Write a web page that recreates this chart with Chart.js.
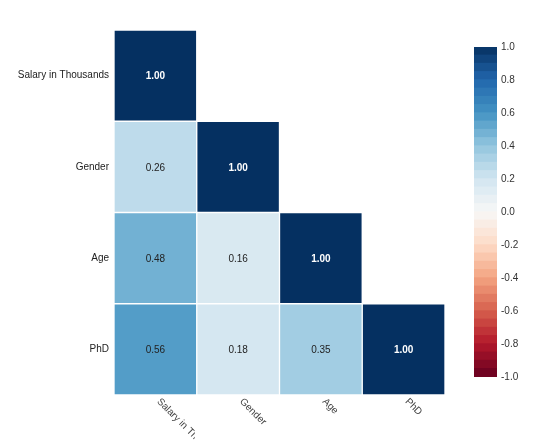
<!DOCTYPE html>
<html><head><meta charset="utf-8">
<script src="https://cdn.jsdelivr.net/npm/chart.js@4/dist/chart.umd.min.js"></script>
<style>
body{margin:0;background:#fff;width:551px;height:440px;overflow:hidden}
#main{position:absolute;left:0;top:0}
#cbar{position:absolute;left:460px;top:0}
</style>
</head><body>
<canvas id="main" width="460" height="440"></canvas>
<canvas id="cbar" width="91" height="440"></canvas>
<script>
const variables = ['Salary in Thousands', 'Gender', 'Age', 'PhD'];
const corrSalary = [1.00];
const corrGender = [0.26, 1.00];
const corrAge = [0.48, 0.16, 1.00];
const corrPhD = [0.56, 0.18, 0.35, 1.00];
const corrRows = [corrSalary, corrGender, corrAge, corrPhD];
const colorbarTicks = [1.0, 0.8, 0.6, 0.4, 0.2, 0.0, -0.2, -0.4, -0.6, -0.8, -1.0];
const palette = ['#67001F','#B2182B','#D6604D','#F4A582','#FDDBC7','#F7F7F7','#D1E5F0','#92C5DE','#4393C3','#2166AC','#053061'];

function hexToRgb(h){return [parseInt(h.substr(1,2),16),parseInt(h.substr(3,2),16),parseInt(h.substr(5,2),16)];}
function colorFor(v){
  let t=(v+1)/2*(palette.length-1);
  let i=Math.min(Math.floor(t),palette.length-2);
  let f=t-i;
  const a=hexToRgb(palette[i]),b=hexToRgb(palette[i+1]);
  const c=a.map((x,k)=>Math.round(x+(b[k]-x)*f));
  return 'rgb('+c.join(',')+')';
}

const font = "'Liberation Sans', Arial, sans-serif";

const datasets = corrRows.map((row, r) => ({
  label: variables[r],
  data: variables.map((_, c) => c < row.length ? [r, r + 1] : null),
  values: variables.map((_, c) => c < row.length ? row[c] : null),
  backgroundColor: variables.map((_, c) => c < row.length ? colorFor(row[c]) : 'rgba(0,0,0,0)'),
  borderColor: 'rgba(255,255,255,0.7)',
  borderWidth: 1,
  borderSkipped: false,
  barPercentage: 1,
  categoryPercentage: 1,
  grouped: false
}));

const labelPlugin = {
  id: 'cellLabels',
  afterDatasetsDraw(chart) {
    const ctx = chart.ctx;
    ctx.save();
    ctx.textAlign = 'center';
    ctx.textBaseline = 'middle';
    chart.data.datasets.forEach((ds, di) => {
      const meta = chart.getDatasetMeta(di);
      meta.data.forEach((el, i) => {
        const v = ds.values[i];
        if (v === null) return;
        const p = el.getCenterPoint();
        ctx.fillStyle = Math.abs(v) > 0.7 ? '#ffffff' : '#222222';
        ctx.font = (Math.abs(v) > 0.7 ? 'bold ' : '') + '10px ' + font;
        ctx.fillText(v.toFixed(2), p.x, p.y + 1);
      });
    });
    // rotated x labels, clipped to their column
    const xs = chart.scales.x;
    const colW = xs.getPixelForValue(1) - xs.getPixelForValue(0);
    const top = chart.chartArea.bottom + 5;
    ctx.font = '10px ' + font;
    ctx.fillStyle = '#444444';
    ctx.textAlign = 'left';
    ctx.textBaseline = 'middle';
    variables.forEach((lab, i) => {
      const x = xs.getPixelForValue(i);
      ctx.save();
      ctx.beginPath();
      ctx.rect(x - colW / 2, chart.chartArea.bottom, colW - 2, 100);
      ctx.clip();
      ctx.translate(x + 3, top);
      ctx.rotate(Math.PI / 4);
      ctx.fillText(lab, 0, 0);
      ctx.restore();
    });
    ctx.restore();
  }
};

new Chart(document.getElementById('main'), {
  type: 'bar',
  data: { labels: variables, datasets },
  options: {
    responsive: false,
    animation: false,
    devicePixelRatio: 1,
    layout: { padding: { top: 30, bottom: 45, right: 15, left: 0 } },
    plugins: { legend: { display: false }, tooltip: { enabled: false } },
    scales: {
      x: { display: false, offset: true },
      y: {
        min: 0, max: 4, reverse: true,
        grid: { display: false, drawTicks: false },
        border: { display: false },
        afterBuildTicks: s => { s.ticks = variables.map((_, i) => ({ value: i + 0.5 })); },
        afterFit: s => { s.width = 114; },
        ticks: {
          padding: 5,
          color: '#222',
          font: { family: font, size: 10 },
          callback: v => variables[Math.floor(v)]
        }
      }
    }
  },
  plugins: [labelPlugin]
});

const nBands = 40;
const bandData = [];
for (let k = 0; k < nBands; k++) {
  const lo = -1 + k * 2 / nBands, hi = lo + 2 / nBands;
  bandData.push({ lo, hi });
}
new Chart(document.getElementById('cbar'), {
  type: 'bar',
  data: {
    labels: ['scale'],
    datasets: bandData.map(b => ({
      data: [[b.lo, b.hi + 0.002]],
      backgroundColor: colorFor((b.lo + b.hi) / 2),
      borderWidth: 0,
      barPercentage: 1,
      categoryPercentage: 1,
      grouped: false
    }))
  },
  options: {
    responsive: false,
    animation: false,
    devicePixelRatio: 1,
    layout: { padding: { top: 47, bottom: 63, left: 14, right: 0 } },
    plugins: { legend: { display: false }, tooltip: { enabled: false } },
    scales: {
      x: { display: false },
      y: {
        position: 'right',
        min: -1, max: 1,
        grid: { display: false, drawTicks: false },
        border: { display: false },
        afterBuildTicks: s => { s.ticks = colorbarTicks.map(v => ({ value: v })); },
        afterFit: s => { s.width = 54; },
        ticks: {
          padding: 4,
          color: '#333',
          font: { family: font, size: 10 },
          callback: v => Number(v).toFixed(1)
        }
      }
    }
  }
});
</script>
</body></html>
